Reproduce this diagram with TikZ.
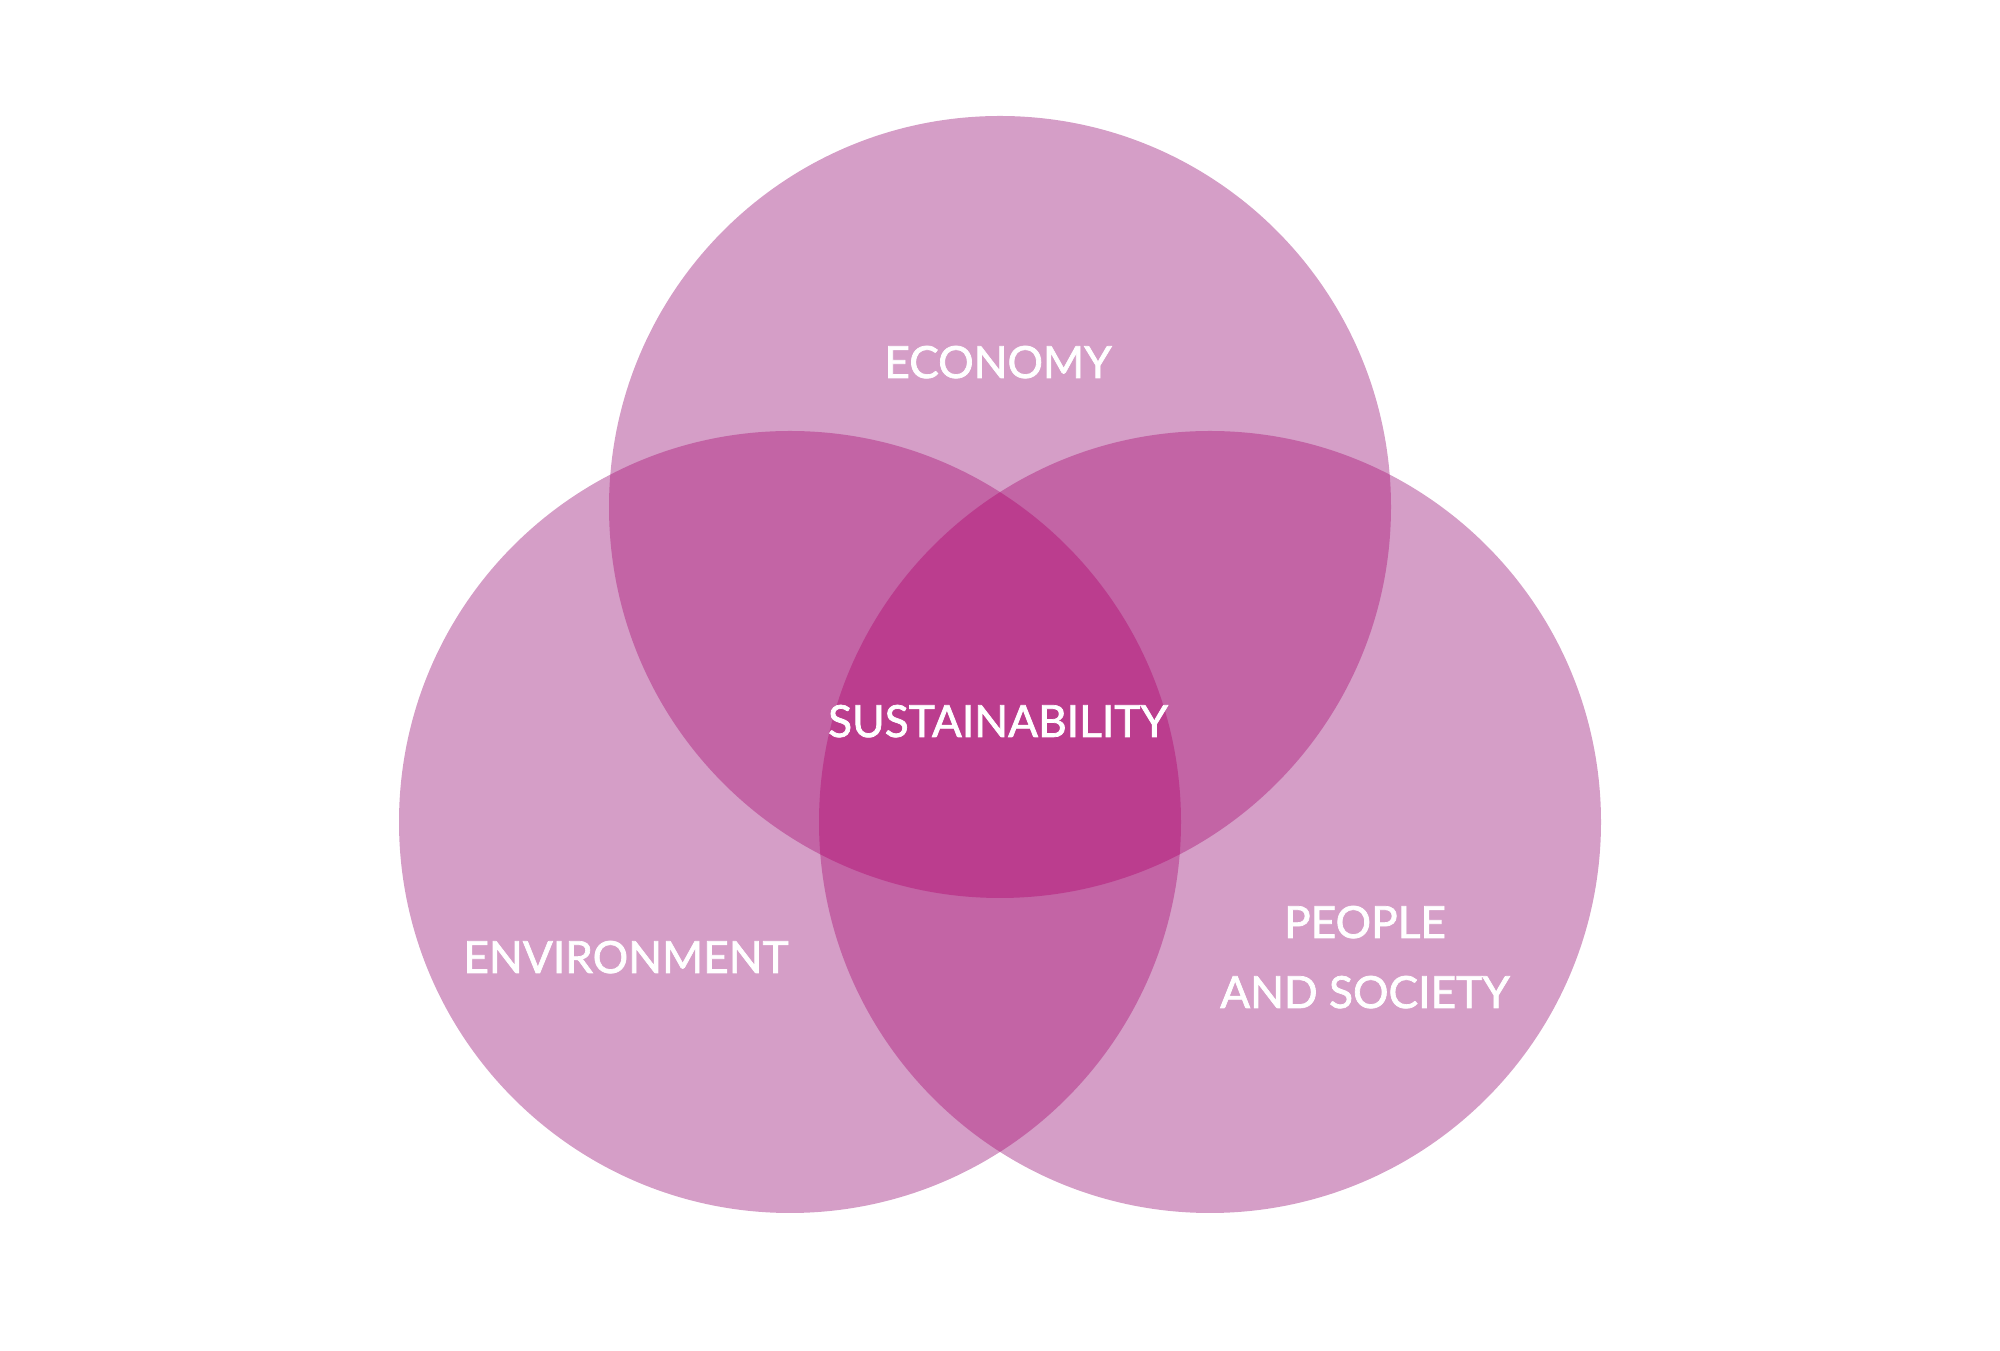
\documentclass[tikz,border=0pt]{standalone}
\usepackage{fontspec}
\newfontfamily\wordfont{Lato}[FakeBold=1.6]
\begin{document}
\begin{tikzpicture}[
  lone/.style={fill=pinkA},
  two/.style={fill=pinkB},
  three/.style={fill=pinkC},
  word/.style={text=white, anchor=base, inner sep=0pt, font=\wordfont\fontsize{12.6}{15}\selectfont}]
\definecolor{pinkA}{RGB}{213,158,199}
\definecolor{pinkB}{RGB}{195,100,165}
\definecolor{pinkC}{RGB}{187,61,142}
\def\rad{3.91}
\useasboundingbox (0,0) rectangle (20,13.51);
\coordinate (ceco) at (10,8.44);
\coordinate (cenv) at (7.9,5.29);
\coordinate (cpeo) at (12.1,5.29);

\fill[lone] (ceco) circle (\rad);
\fill[lone] (cenv) circle (\rad);
\fill[lone] (cpeo) circle (\rad);
\begin{scope}
\clip (ceco) circle (\rad);
\fill[two] (cenv) circle (\rad);
\fill[two] (cpeo) circle (\rad);
\end{scope}
\begin{scope}
\clip (cenv) circle (\rad);
\fill[two] (cpeo) circle (\rad);
\end{scope}
\begin{scope}
\clip (ceco) circle (\rad);
\clip (cenv) circle (\rad);
\fill[three] (cpeo) circle (\rad);
\end{scope}

\node[word] (eco) at (9.98,9.73) {ECONOMY};
\node[word] (sus) at (9.98,6.14) {SUSTAINABILITY};
\node[word] (env) at (6.26,3.78) {ENVIRONMENT};
\node[word] (peo) at (13.65,4.13) {PEOPLE};
\node[word] (soc) at (13.65,3.43) {AND SOCIETY};
\end{tikzpicture}
\end{document}
